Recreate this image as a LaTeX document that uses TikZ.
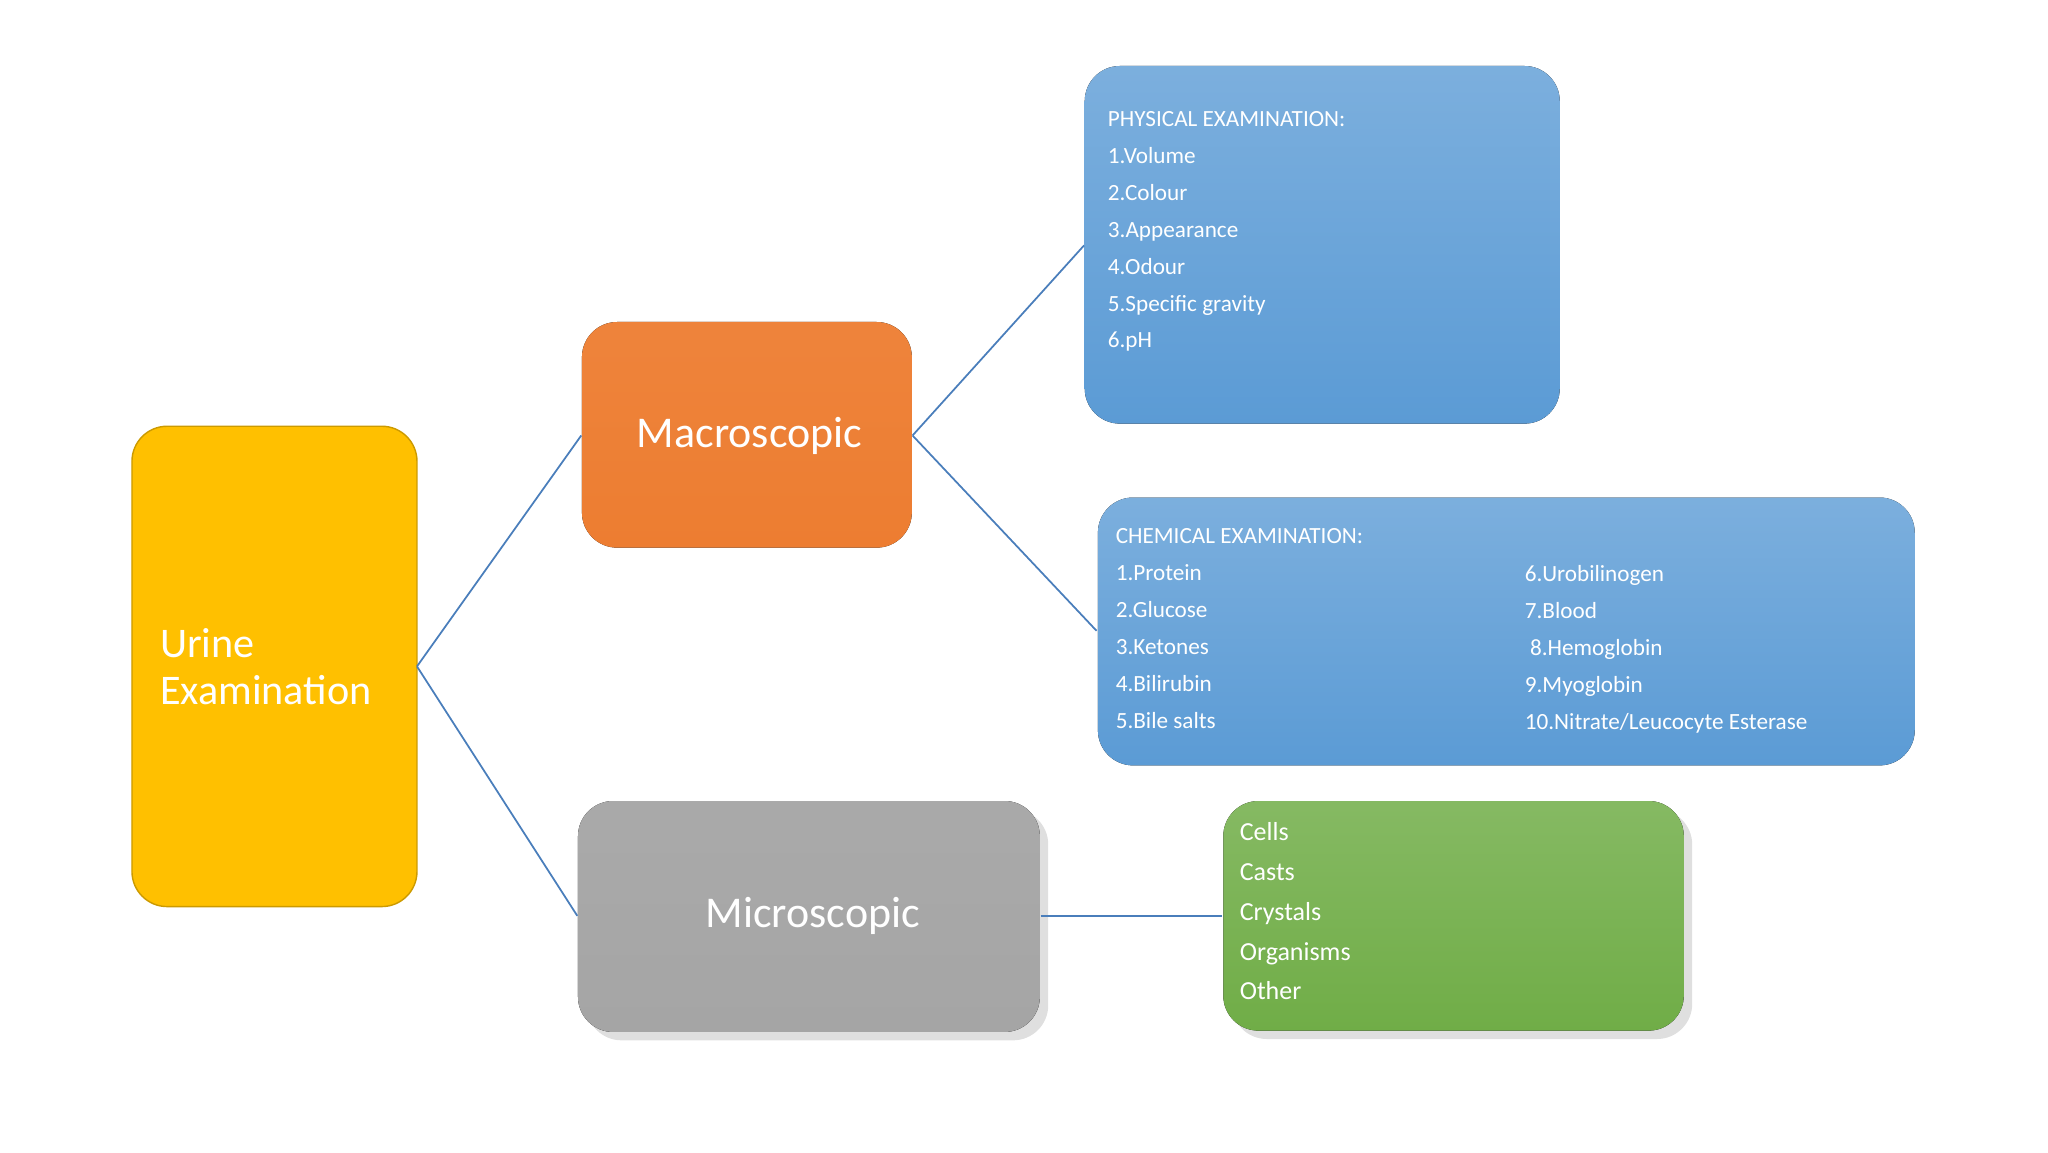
\documentclass[tikz,border=0pt]{standalone}
\usepackage{fontspec}
\setmainfont{Carlito}
\usetikzlibrary{positioning,shadows}
\definecolor{urineyellow}{HTML}{FFC000}
\definecolor{macroorange}{HTML}{ED7D31}
\definecolor{physblue}{HTML}{5B9BD5}
\definecolor{microgray}{HTML}{A5A5A5}
\definecolor{cellgreen}{HTML}{70AD47}
\definecolor{linkblue}{HTML}{4A7EBB}
\begin{document}
\begin{tikzpicture}
    [
    x=0.0132cm, y=-0.0132cm,
    every box/.style={rounded corners=10pt, inner sep=0pt, outer sep=0pt},
    big text/.style={text=white, font=\fontsize{12.5}{14}\selectfont},
    list text/.style={text=white, align=left, anchor=north west, inner sep=0pt, font=\fontsize{6.6}{10.5}\selectfont},
    link/.style={draw=linkblue, line width=0.5pt},
    ]
    \useasboundingbox (0,0) rectangle (1552,873);

    \draw[every box, fill=urineyellow, draw=urineyellow!80!black] (100,323) rectangle (316,687);
    \node[every box, minimum width=216*0.0132cm, minimum height=364*0.0132cm] (box_urine) at (208,505) {};
    \node[big text, align=left, anchor=west, font=\fontsize{12}{13.5}\selectfont] at (112,505) {Urine\\Examination};

    \fill[every box, top color=macroorange!95!white, bottom color=macroorange] (441,244) rectangle (691,415);
    \node[minimum width=250*0.0132cm, minimum height=171*0.0132cm, inner sep=0pt] (box_macro) at (566,330) {};
    \node[big text] at (568,330) {Macroscopic};

    \fill[every box, drop shadow={opacity=0.25}, top color=microgray!95!white, bottom color=microgray] (438,607) rectangle (788,782);
    \node[minimum width=350*0.0132cm, minimum height=175*0.0132cm, inner sep=0pt] (box_micro) at (613,694) {};
    \node[big text] at (616,694) {Microscopic};

    \fill[every box, top color=physblue!80!white, bottom color=physblue] (822,50) rectangle (1182,321);
    \node[minimum width=360*0.0132cm, minimum height=271*0.0132cm, inner sep=0pt] (box_physical) at (1002,186) {};
    \node[list text] at (839,84) {PHYSICAL EXAMINATION:\\1.Volume\\2.Colour\\3.Appearance\\4.Odour\\5.Specific gravity\\6.pH};

    \fill[every box, top color=physblue!80!white, bottom color=physblue] (832,377) rectangle (1451,580);
    \node[minimum width=619*0.0132cm, minimum height=203*0.0132cm, inner sep=0pt] (box_chemical) at (1141,478) {};
    \node[list text] at (845,400) {CHEMICAL EXAMINATION:\\1.Protein\\2.Glucose\\3.Ketones\\4.Bilirubin\\5.Bile salts};
    \node[list text] at (1155,428) {6.Urobilinogen\\7.Blood\\\ 8.Hemoglobin\\9.Myoglobin\\10.Nitrate/Leucocyte Esterase};

    \fill[every box, drop shadow={opacity=0.25}, top color=cellgreen!85!white, bottom color=cellgreen] (927,607) rectangle (1276,781);
    \node[minimum width=349*0.0132cm, minimum height=174*0.0132cm, inner sep=0pt] (box_cells) at (1101,694) {};
    \node[list text, font=\fontsize{7.4}{11.3}\selectfont] at (939,623) {Cells\\Casts\\Crystals\\Organisms\\Other};

    \draw[link] (box_urine.east) -- (box_macro.west);
    \draw[link] (box_urine.east) -- (box_micro.west);
    \draw[link] (box_macro.east) -- (box_physical.west);
    \draw[link] (box_macro.east) -- (box_chemical.west);
    \draw[link] (box_micro.east) -- (box_cells.west);
\end{tikzpicture}
\end{document}
